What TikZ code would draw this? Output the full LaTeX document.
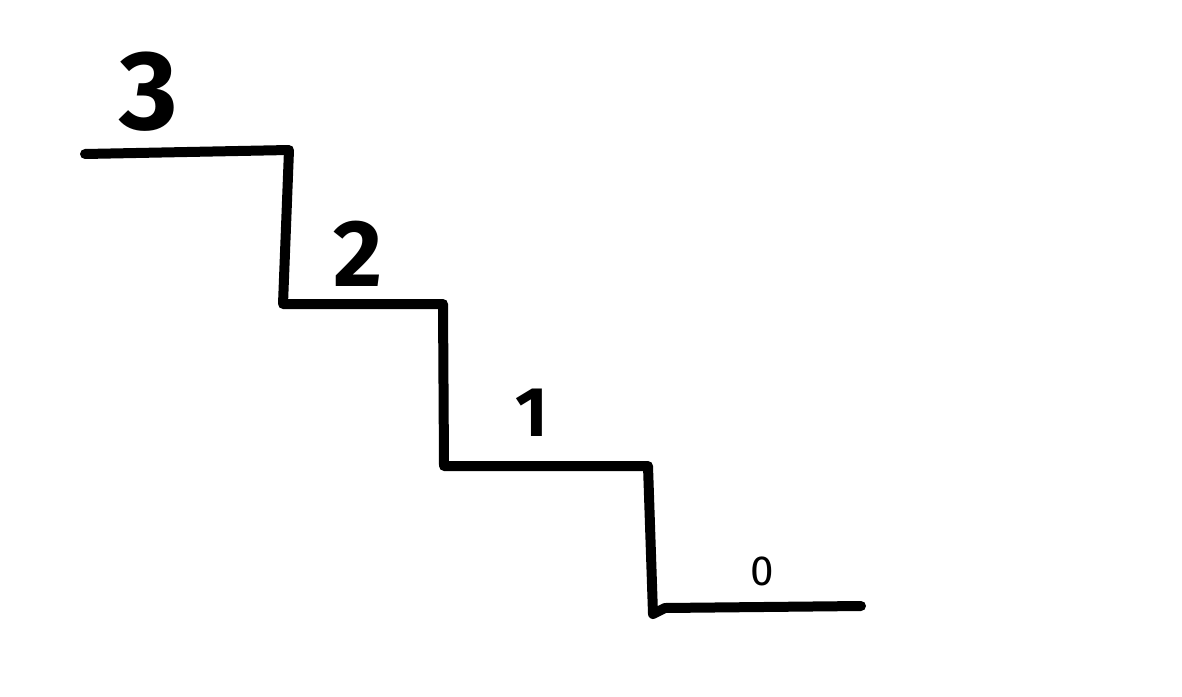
\documentclass[tikz,border=0pt]{standalone}
\usepackage{fontspec}
\setmainfont{Fira Sans}
\tikzset{
	stair/.style={line width=0.2cm, line cap=round, line join=round},
	steplabel/.style={inner sep=0pt, anchor=center}
}
\begin{document}
\begin{tikzpicture}[x=0.02cm, y=-0.02cm]
	\useasboundingbox (0,0) rectangle (1182,696);
	%stairs
	\draw[stair] (85,154) -- (289,150) -- (283,304) -- (443,304) -- (444,466) -- (648,466) -- (653,614) -- (665,608) -- (861,606);
	
	%labels
	\node[steplabel] (three) at (149,92) {\fontsize{64}{64}\selectfont\bfseries 3};
	\node[steplabel] (two) at (358,254) {\fontsize{54}{54}\selectfont\bfseries 2};
	\node[steplabel] (one) at (532,413) {\fontsize{40}{40}\selectfont\bfseries 1};
	\node[steplabel] (zero) at (762,571) {\fontsize{24}{24}\selectfont 0};
\end{tikzpicture}
\end{document}
